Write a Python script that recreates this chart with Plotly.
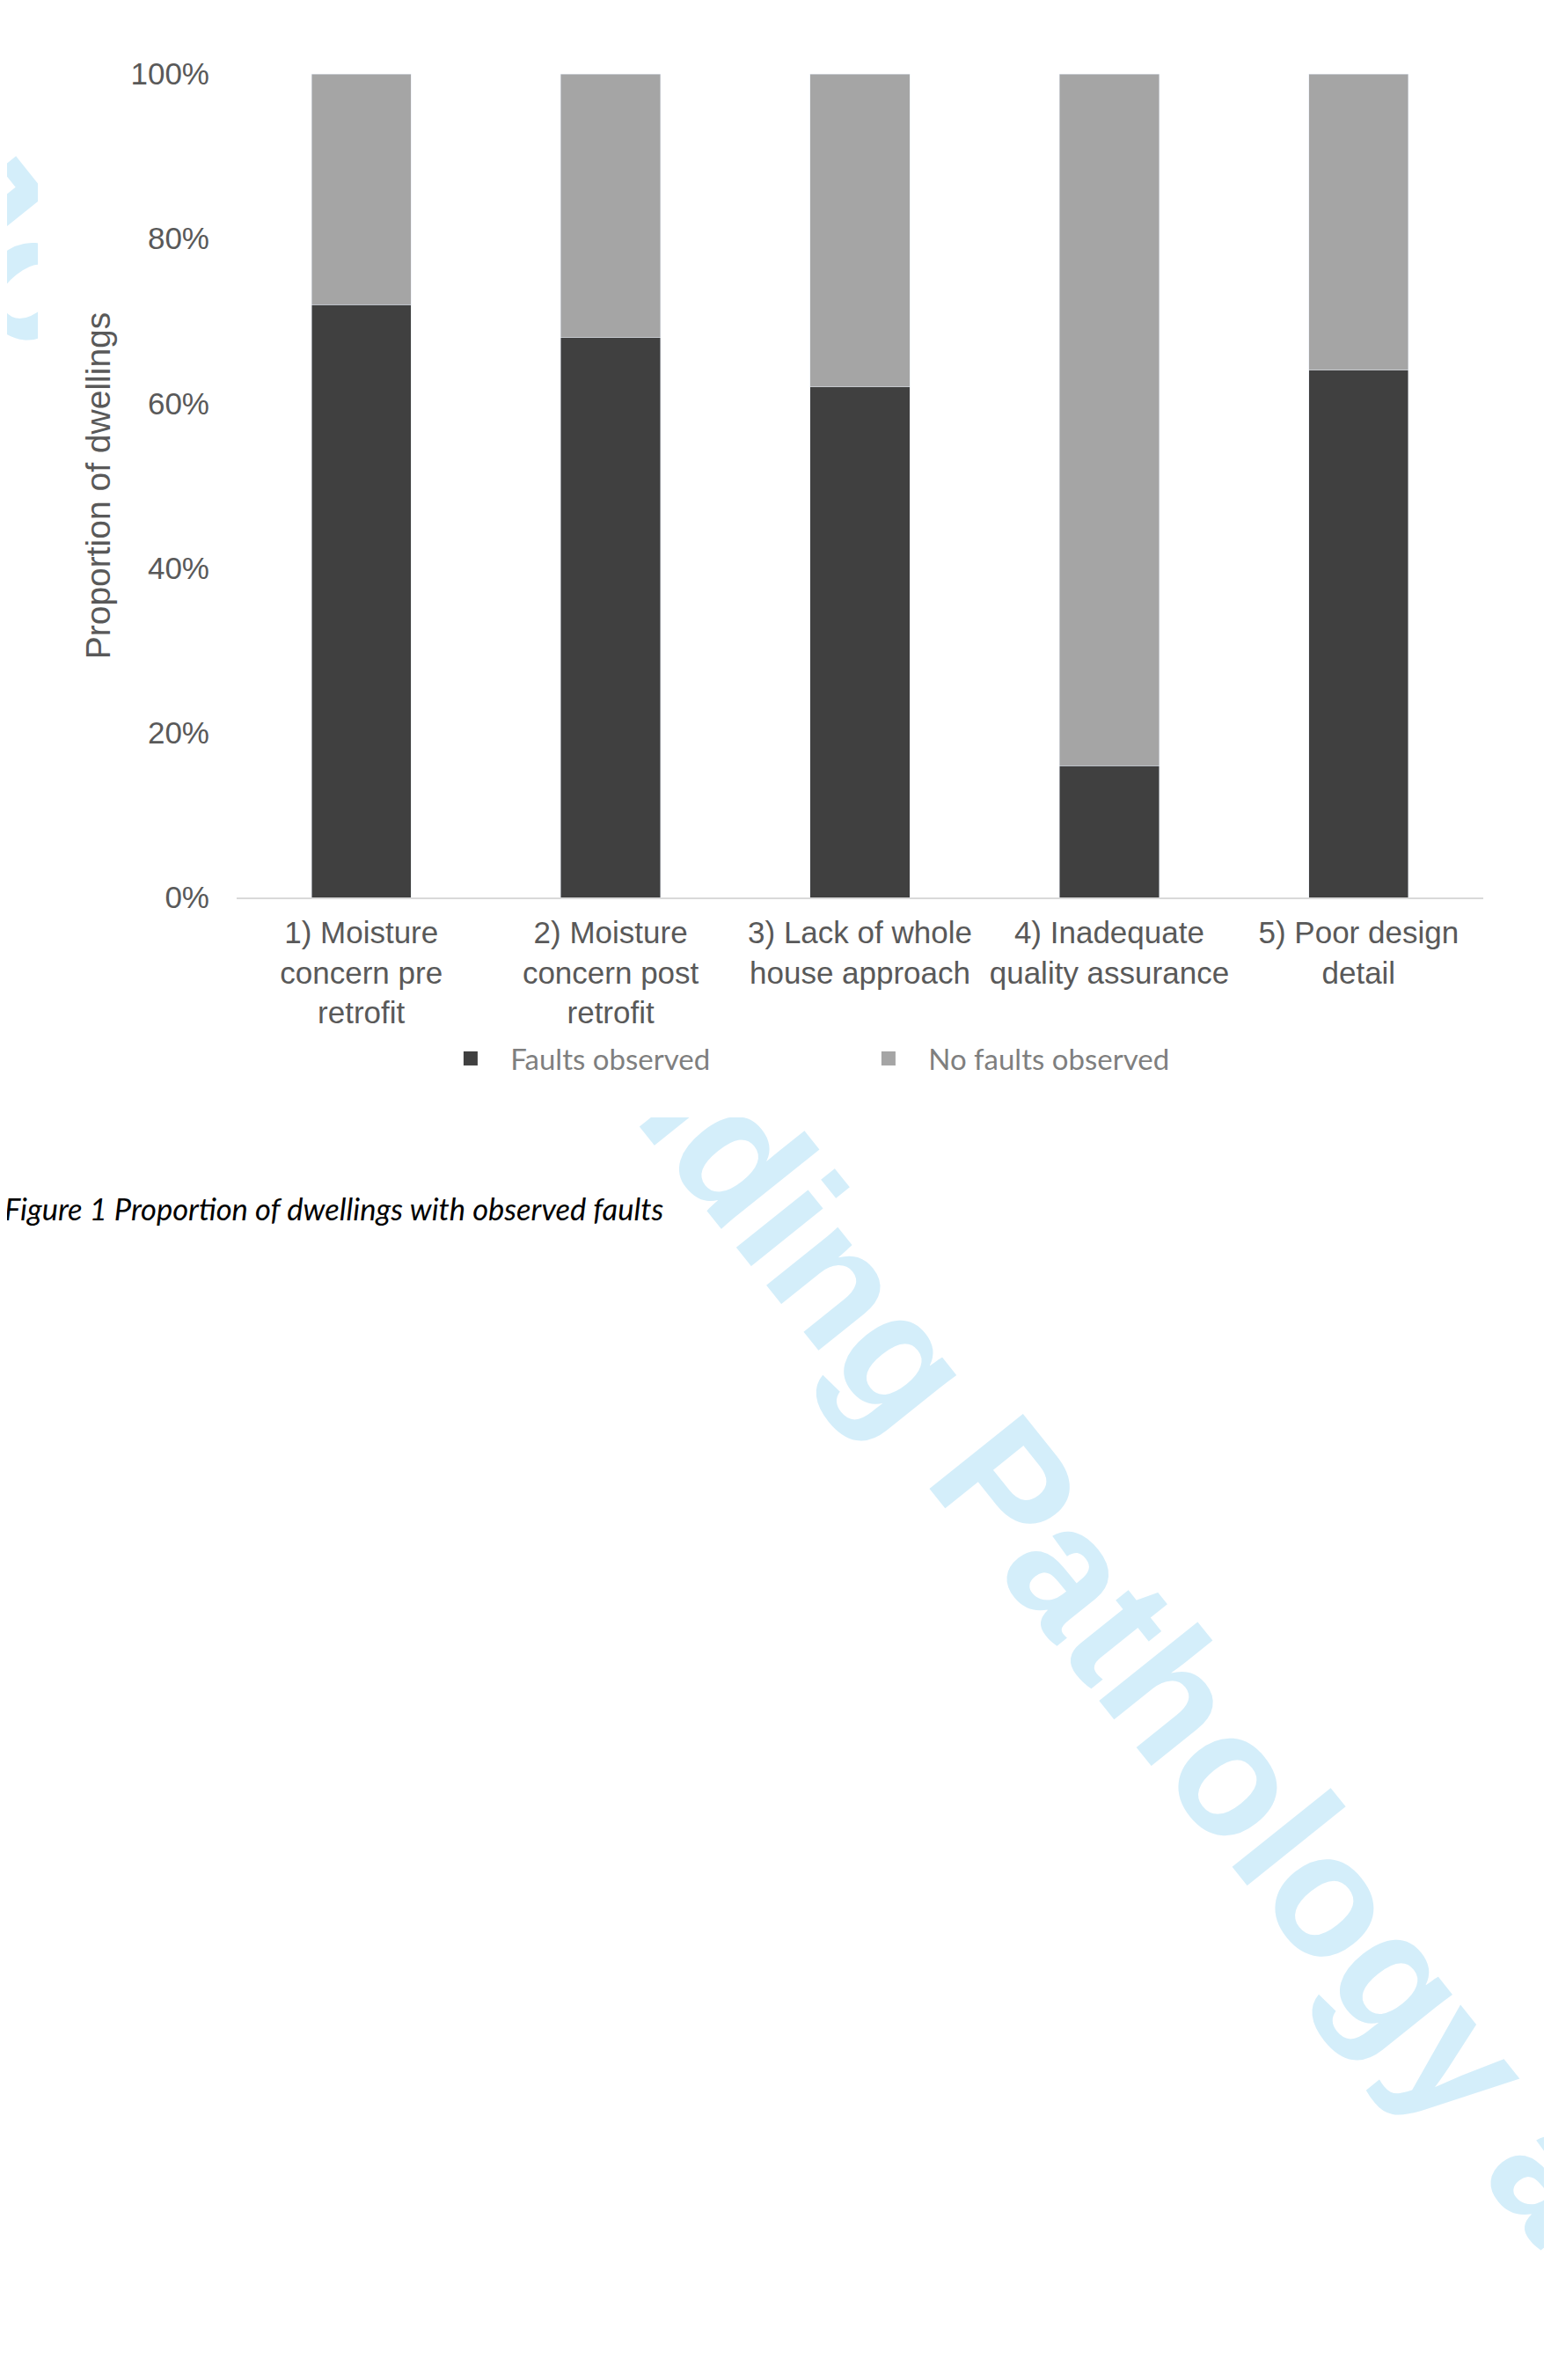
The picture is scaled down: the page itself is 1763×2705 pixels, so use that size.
import math
import plotly.graph_objects as go

categories = [
    "1) Moisture<br>concern pre<br>retrofit",
    "2) Moisture<br>concern post<br>retrofit",
    "3) Lack of whole<br>house approach",
    "4) Inadequate<br>quality assurance",
    "5) Poor design<br>detail",
]
faults_observed = [0.72, 0.68, 0.62, 0.16, 0.64]
no_faults_observed = [0.28, 0.32, 0.38, 0.84, 0.36]
series_names = ["Faults observed", "No faults observed"]
series_colors = ["#404040", "#a5a5a5"]
y_tickvals = [0, 0.2, 0.4, 0.6, 0.8, 1.0]
y_title = "Proportion of dwellings"
caption = "Figure 1 Proportion of dwellings with observed faults"
watermark = "Journal of Building Pathology and Adaptation"

# page offset of the figure (body margin)
O = 8
W, H = 1763 - O, 2705 - O
PLOT_L, PLOT_R, PLOT_T, PLOT_B = 269, 1686.5, 84, 1020  # page coords
L, T = PLOT_L - O, PLOT_T - O
R = W - (PLOT_R - O)
B = H - (PLOT_B - O)
PW, PH = PLOT_R - PLOT_L, PLOT_B - PLOT_T


def px(x):
    """page x pixel -> paper coordinate"""
    return (x - PLOT_L) / PW


def py(y):
    """page y pixel -> paper coordinate"""
    return (PLOT_B - y) / PH


fig = go.Figure()
fig.add_trace(go.Bar(x=categories, y=faults_observed, name=series_names[0],
                     marker_color=series_colors[0], showlegend=False))
fig.add_trace(go.Bar(x=categories, y=no_faults_observed, name=series_names[1],
                     marker_color=series_colors[1], showlegend=False))
# legend entries (square swatches)
nb = "\u00a0" * 3
for n, c in zip(series_names, series_colors):
    fig.add_trace(go.Scatter(x=[None], y=[None], mode="markers", name=nb + n,
                             marker=dict(symbol="square", size=16, color=c)))

# watermark text running diagonally down the page
ang = math.radians(51.3)
dx, dy = math.cos(ang), math.sin(ang)
ux, uy = dy, -dx  # "up" direction of the text
sx, sy = -115.5, 232
shift = 24
sx0, sy0 = sx - ux * shift, sy - uy * shift
ex0, ey0 = sx0 + dx * 3200, sy0 + dy * 3200

fig.add_shape(type="line", xref="paper", yref="paper",
              x0=px(sx0), y0=py(sy0), x1=px(ex0), y1=py(ey0),
              line=dict(width=0, color="rgba(0,0,0,0)"), layer="below",
              label=dict(text=watermark, textposition="start",
                         font=dict(family="Liberation Sans, Arial", size=198,
                                   color="#d4eefa", weight="bold")))
# chart image area hides the watermark behind it
fig.add_shape(type="rect", xref="paper", yref="paper",
              x0=px(43), x1=px(1800), y0=py(-20), y1=py(1270),
              line=dict(width=0), fillcolor="white", layer="below")

fig.add_annotation(text="<i>" + caption + "</i>", xref="paper", yref="paper",
                   x=px(3), y=py(1373), xanchor="left", yanchor="middle",
                   showarrow=False,
                   font=dict(family="Lato", size=34.5, color="#000000"))

fig.update_layout(
    width=W, height=H,
    margin=dict(l=L, r=R, t=T, b=B, autoexpand=False),
    barmode="stack", bargap=0.6,
    paper_bgcolor="white", plot_bgcolor="rgba(0,0,0,0)",
    font=dict(family="Liberation Sans, Arial", color="#595959"),
    legend=dict(orientation="h", x=px(535 - 20), xanchor="left",
                y=py(1203), yanchor="middle", entrywidth=430,
                traceorder="normal",
                font=dict(family="Lato", size=33, color="#7f7f7f"),
                bgcolor="rgba(0,0,0,0)"),
    showlegend=True,
)
fig.update_xaxes(showline=True, linecolor="#d9d9d9", linewidth=2,
                 showgrid=False, ticks="", ticklabelstandoff=8,
                 tickfont=dict(size=35, color="#595959"), fixedrange=True)
fig.update_yaxes(range=[0, 1], tickvals=y_tickvals, tickformat=".0%",
                 showgrid=False, zeroline=False, showline=False, ticks="",
                 ticklabelstandoff=30,
                 tickfont=dict(size=35, color="#595959"),
                 title=dict(text=y_title, font=dict(size=39, color="#595959"),
                            standoff=10))

fig.write_html("out.html")
